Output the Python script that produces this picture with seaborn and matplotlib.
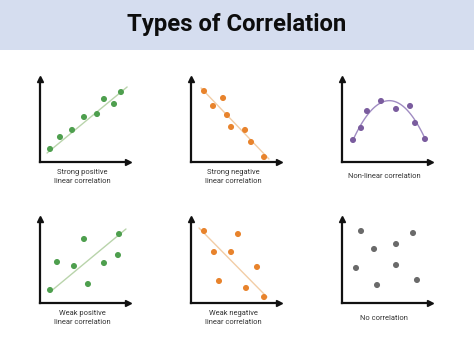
import numpy as np
import matplotlib
matplotlib.use("Agg")
import matplotlib.pyplot as plt
import seaborn as sns

# chart data (axes run 0..10 in both directions)
titles = ["Strong positive\nlinear correlation", "Strong negative\nlinear correlation",
          "Non-linear correlation", "Weak positive\nlinear correlation",
          "Weak negative\nlinear correlation", "No correlation"]

strong_pos_x = [1.14, 2.27, 3.64, 5.0, 6.48, 7.27, 8.41, 9.2]
strong_pos_y = [1.57, 3.01, 3.86, 5.42, 5.78, 7.59, 6.99, 8.43]
strong_pos_line_x = [0.8, 9.9]
strong_pos_line_y = [1.08, 9.04]

strong_neg_x = [1.48, 3.64, 2.5, 4.09, 4.55, 6.14, 6.82, 8.3]
strong_neg_y = [8.55, 7.71, 6.75, 5.66, 4.22, 3.86, 2.41, 0.6]
strong_neg_line_x = [1.14, 8.86]
strong_neg_line_y = [8.92, 0.36]

nonlin_x = [1.25, 2.16, 2.84, 4.43, 6.14, 7.73, 8.30, 9.43]
nonlin_y = [2.65, 4.10, 6.14, 7.35, 6.39, 6.75, 4.70, 2.77]

weak_pos_x = [1.14, 1.93, 3.86, 5.0, 5.45, 7.27, 8.86, 8.98]
weak_pos_y = [1.55, 4.88, 4.40, 7.62, 2.26, 4.76, 5.71, 8.21]
weak_pos_line_x = [1.14, 9.77]
weak_pos_line_y = [1.31, 8.81]

weak_neg_x = [1.48, 5.34, 2.61, 4.55, 7.5, 3.18, 6.25, 8.30]
weak_neg_y = [8.57, 8.21, 6.07, 6.07, 4.29, 2.62, 1.79, 0.71]
weak_neg_line_x = [0.91, 8.64]
weak_neg_line_y = [8.93, 0.71]

none_x = [2.16, 8.07, 3.64, 6.14, 1.59, 6.14, 8.52, 3.98]
none_y = [8.57, 8.33, 6.43, 7.02, 4.17, 4.52, 2.74, 2.14]

GREEN = "#4e9f4e"
ORANGE = "#e8832c"
PURPLE = "#7a5c9e"
GREY = "#6a6a6a"

sns.set_style("white")
plt.rcParams['font.family'] = ['Roboto', 'DejaVu Sans']

W, H = 474, 356
fig = plt.figure(figsize=(W / 100, H / 100), dpi=100)
fig.patch.set_facecolor("white")

# header band
band = fig.add_axes([0, 1 - 50 / H, 1, 50 / H])
band.set_facecolor("#d5ddef")
band.set_xticks([])
band.set_yticks([])
for s in band.spines.values():
    s.set_visible(False)
band.text(0.5, 0.52, "Types of Correlation", ha="center", va="center",
          fontsize=17.2, fontweight="bold", color="#0d0d0d", transform=band.transAxes)

# panel frames in pixels: (left, axis origin y, top y)
lefts = [40, 191, 342]
rows = [(162, 79), (303, 219)]
axes = []
for (yo, ytop) in rows:
    for x0 in lefts:
        ax = fig.add_axes([x0 / W, (H - yo) / H, 88 / W, (yo - ytop) / H])
        ax.set_xlim(0, 10)
        ax.set_ylim(0, 10)
        ax.set_xticks([])
        ax.set_yticks([])
        ax.set_facecolor("none")
        ax.spines["top"].set_visible(False)
        ax.spines["right"].set_visible(False)
        for side in ["left", "bottom"]:
            ax.spines[side].set_color("#111111")
            ax.spines[side].set_linewidth(1.6)
        ax.plot(1, 0, ">", color="#111111", ms=4.5, transform=ax.transAxes, clip_on=False)
        ax.plot(0, 1, "^", color="#111111", ms=4.5, transform=ax.transAxes, clip_on=False)
        axes.append(ax)

dot = dict(s=19, edgecolor="none", zorder=3)

sns.lineplot(x=strong_pos_line_x, y=strong_pos_line_y, ax=axes[0], color="#b9d4ab", lw=1)
sns.scatterplot(x=strong_pos_x, y=strong_pos_y, ax=axes[0], color=GREEN, **dot)

sns.lineplot(x=strong_neg_line_x, y=strong_neg_line_y, ax=axes[1], color="#f2cda6", lw=1)
sns.scatterplot(x=strong_neg_x, y=strong_neg_y, ax=axes[1], color=ORANGE, **dot)

sns.regplot(x=nonlin_x, y=nonlin_y, order=2, ci=None, scatter=False, ax=axes[2],
            line_kws=dict(color="#a08cc2", lw=1))
sns.scatterplot(x=nonlin_x, y=nonlin_y, ax=axes[2], color=PURPLE, **dot)

sns.lineplot(x=weak_pos_line_x, y=weak_pos_line_y, ax=axes[3], color="#b9d4ab", lw=1)
sns.scatterplot(x=weak_pos_x, y=weak_pos_y, ax=axes[3], color=GREEN, **dot)

sns.lineplot(x=weak_neg_line_x, y=weak_neg_line_y, ax=axes[4], color="#f2cda6", lw=1)
sns.scatterplot(x=weak_neg_x, y=weak_neg_y, ax=axes[4], color=ORANGE, **dot)

sns.scatterplot(x=none_x, y=none_y, ax=axes[5], color=GREY, **dot)

for ax, label in zip(axes, titles):
    ax.set_xlim(0, 10)
    ax.set_ylim(0, 10)
    ax.set_xlabel("")
    ax.set_ylabel("")
    ax.text(0.48, -15 / 83, label, transform=ax.transAxes, ha="center", va="center",
            fontsize=5.4, color="#333333", linespacing=1.3)

fig.savefig("out.png", dpi=100)
